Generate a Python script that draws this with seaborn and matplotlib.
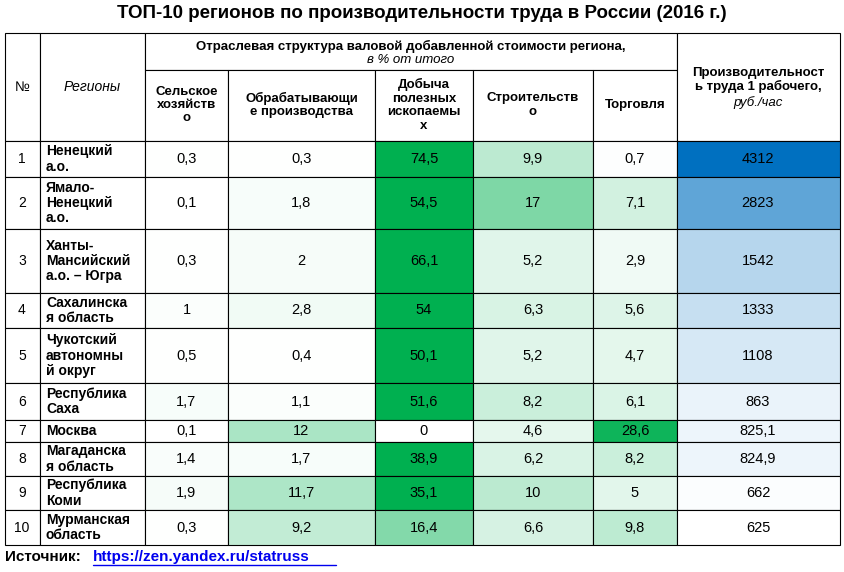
import numpy as np
import matplotlib
matplotlib.use("Agg")
import matplotlib.pyplot as plt
from matplotlib.patches import Rectangle
from matplotlib.colors import LinearSegmentedColormap
import seaborn as sns

ranks = [1, 2, 3, 4, 5, 6, 7, 8, 9, 10]
regions = ["Ненецкий\nа.о.", "Ямало-\nНенецкий\nа.о.", "Ханты-\nМансийский\nа.о. – Югра",
           "Сахалинска\nя область", "Чукотский\nавтономны\nй округ", "Республика\nСаха",
           "Москва", "Магаданска\nя область", "Республика\nКоми", "Мурманская\nобласть"]
agriculture = [0.3, 0.1, 0.3, 1, 0.5, 1.7, 0.1, 1.4, 1.9, 0.3]
manufacturing = [0.3, 1.8, 2, 2.8, 0.4, 1.1, 12, 1.7, 11.7, 9.2]
mining = [74.5, 54.5, 66.1, 54, 50.1, 51.6, 0, 38.9, 35.1, 16.4]
construction = [9.9, 17, 5.2, 6.3, 5.2, 8.2, 4.6, 6.2, 10, 6.6]
trade = [0.7, 7.1, 2.9, 5.6, 4.7, 6.1, 28.6, 8.2, 5, 9.8]
productivity = [4312, 2823, 1542, 1333, 1108, 863, 825.1, 824.9, 662, 625]
sector_headers = ["Сельское\nхозяйств\nо", "Обрабатывающи\nе производства",
                  "Добыча\nполезных\nископаемы\nх", "Строительств\nо", "Торговля"]

sns.set_theme(style="white", font="Liberation Sans",
              rc={"text.color": "black"})
green = LinearSegmentedColormap.from_list("g", ["#ffffff", "#00b050"])
blue = LinearSegmentedColormap.from_list("b", ["#ffffff", "#0070c0"])

fig = plt.figure(figsize=(8.45, 5.72), dpi=100)
ax = fig.add_axes([0, 0, 1, 1])
ax.set_xlim(0, 845)
ax.set_ylim(572, 0)
ax.axis("off")

xs = [5, 40, 145, 228, 375, 473, 593, 677, 840]
ys = [141, 177, 229, 293, 328, 383, 420, 442, 476, 510, 545]
top, mid = 33, 70


def fmt(v):
    return f"{v:g}".replace(".", ",")


def cell(x0, x1, y0, y1, color="white"):
    ax.add_patch(Rectangle((x0, y0), x1 - x0, y1 - y0, facecolor=color,
                           edgecolor="black", lw=0.8))


ax.text(422, 13, "ТОП-10 регионов по производительности труда в России (2016 г.)",
        ha="center", va="center", fontsize=13.5, fontweight="bold")

# header
cell(xs[0], xs[1], top, ys[0])
ax.text(22, 87, "№", ha="center", va="center", fontsize=10)
cell(xs[1], xs[2], top, ys[0])
ax.text(92, 87, "Регионы", ha="center", va="center", fontsize=10, style="italic")
cell(xs[2], xs[7], top, mid)
ax.text(411, 46, "Отраслевая структура валовой добавленной стоимости региона,",
        ha="center", va="center", fontsize=9.5, fontweight="bold")
ax.text(411, 60, "в % от итого", ha="center", va="center", fontsize=9.5, style="italic")
for i, h in enumerate(sector_headers):
    cell(xs[i + 2], xs[i + 3], mid, ys[0])
    ax.text((xs[i + 2] + xs[i + 3]) / 2, 105, h, ha="center", va="center",
            fontsize=9.5, fontweight="bold", linespacing=1.15)
cell(xs[7], xs[8], top, ys[0])
ax.text(758, 80, "Производительност\nь труда 1 рабочего,", ha="center", va="center",
        fontsize=9.5, fontweight="bold", linespacing=1.15)
ax.text(758, 103, "руб./час", ha="center", va="center", fontsize=9.5, style="italic")

sectors = [agriculture, manufacturing, mining, construction, trade]
pmin, pmax = min(productivity), max(productivity)
for r in range(len(ranks)):
    y0, y1 = ys[r], ys[r + 1]
    yc = (y0 + y1) / 2
    cell(xs[0], xs[1], y0, y1)
    ax.text(22, yc, str(ranks[r]), ha="center", va="center", fontsize=10)
    cell(xs[1], xs[2], y0, y1)
    ax.text(46, yc, regions[r], ha="left", va="center", fontsize=10,
            fontweight="bold", linespacing=1.1)
    for c, vals in enumerate(sectors):
        t = min(vals[r] / 30, 1) ** 1.2
        cell(xs[c + 2], xs[c + 3], y0, y1, green(t))
        ax.text((xs[c + 2] + xs[c + 3]) / 2, yc, fmt(vals[r]), ha="center",
                va="center", fontsize=10.5)
    t = ((productivity[r] - pmin) / (pmax - pmin)) ** 0.9
    cell(xs[7], xs[8], y0, y1, blue(t))
    ax.text(758, yc, fmt(productivity[r]), ha="center", va="center", fontsize=10.5)

ax.text(5, 557, "Источник: ", ha="left", va="center", fontsize=11, fontweight="bold")
ax.text(93, 557, "https://zen.yandex.ru/statruss", ha="left", va="center",
        fontsize=11, fontweight="bold", color="#0000ee")
ax.plot([93, 336], [565, 565], color="#0000ee", lw=1)

fig.savefig("out.png", dpi=100)
